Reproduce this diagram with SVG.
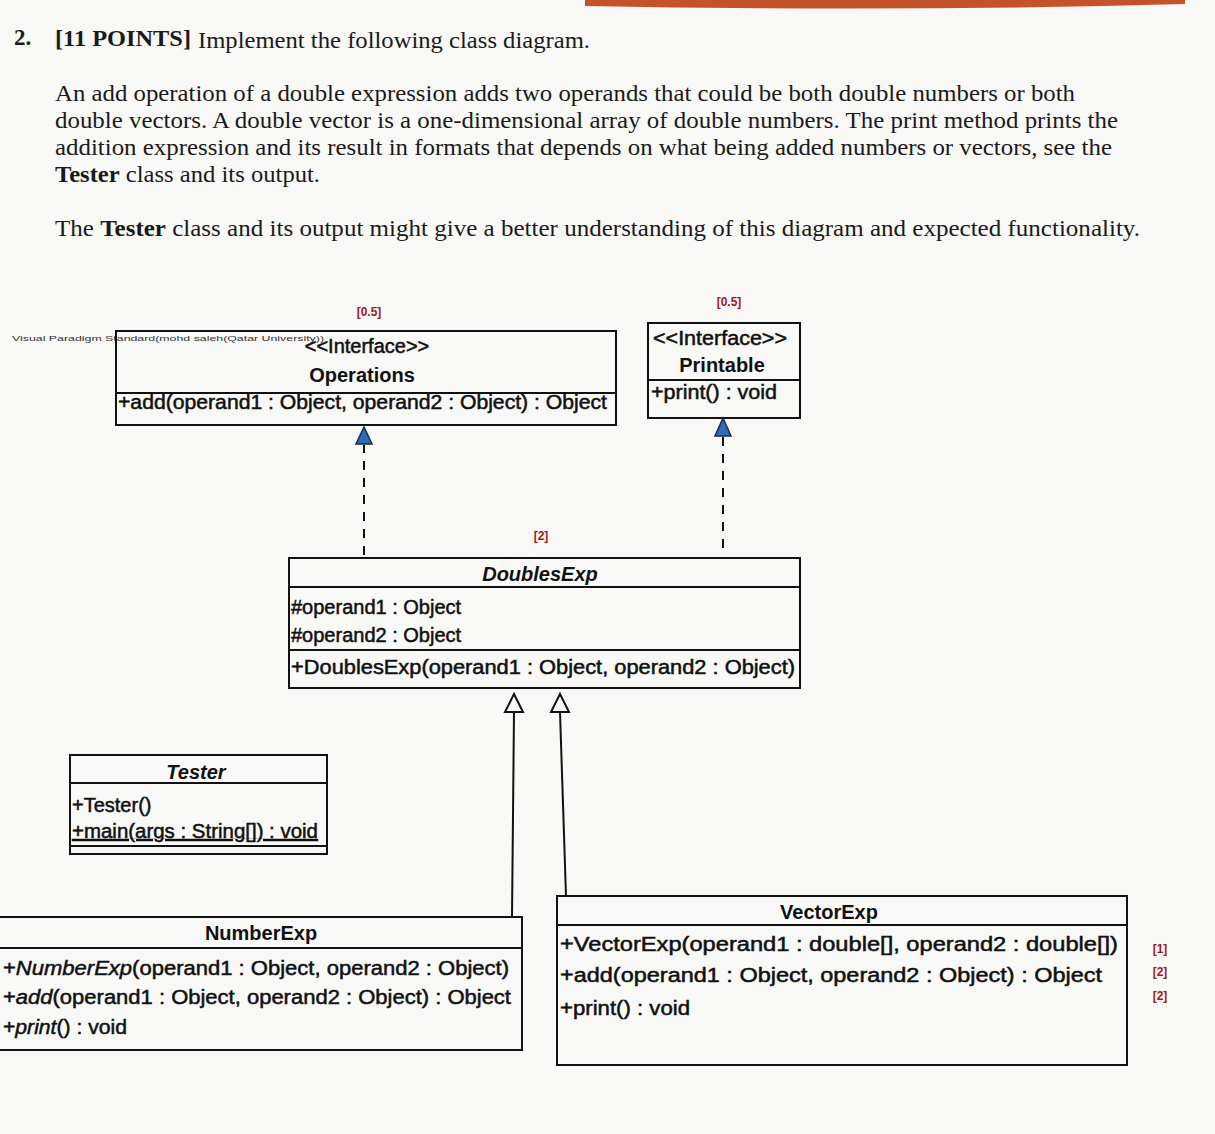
<svg xmlns="http://www.w3.org/2000/svg" width="1215" height="1134" viewBox="0 0 1215 1134">
<defs>
<style>
.ser{font-family:"Liberation Serif","Times New Roman",serif;font-size:23px;fill:#1a1a1a}
.b{font-weight:bold}
.uml{font-family:"Liberation Sans",Arial,sans-serif;font-size:20px;fill:#111;stroke:#111;stroke-width:0.5}
.ttl{font-family:"Liberation Sans",Arial,sans-serif;font-size:20px;font-weight:bold;fill:#111}
.red{font-family:"Liberation Sans",Arial,sans-serif;font-size:12px;font-weight:bold;fill:#a01818}
.box{fill:none;stroke:#111;stroke-width:2}
.conn{fill:none;stroke:#111;stroke-width:2}
.dash{stroke-dasharray:9 8}
</style>
</defs>
<rect x="0" y="0" width="1215" height="1134" fill="#f8f8f6"/>
<path d="M585 0 H1185 V4 Q900 12 585 6 Z" fill="#c4532b"/>

<g id="heading">
<text class="ser b" x="14" y="45" font-size="24">2.</text>
<text class="ser b" x="55" y="46" font-size="24" textLength="136" lengthAdjust="spacingAndGlyphs">[11 POINTS]</text>
<text class="ser" x="198" y="48" font-size="24" textLength="392" lengthAdjust="spacingAndGlyphs">Implement the following class diagram.</text>
<text class="ser" x="55" y="101" textLength="1020" lengthAdjust="spacingAndGlyphs">An add operation of a double expression adds two operands that could be both double numbers or both</text>
<text class="ser" x="55" y="128" textLength="1063" lengthAdjust="spacingAndGlyphs">double vectors. A double vector is a one-dimensional array of double numbers. The print method prints the</text>
<text class="ser" x="55" y="155" textLength="1057" lengthAdjust="spacingAndGlyphs">addition expression and its result in formats that depends on what being added numbers or vectors, see the</text>
<text class="ser" x="55" y="182" textLength="265" lengthAdjust="spacingAndGlyphs"><tspan class="b">Tester</tspan> class and its output.</text>
<text class="ser" x="55" y="236" textLength="1085" lengthAdjust="spacingAndGlyphs">The <tspan class="b">Tester</tspan> class and its output might give a better understanding of this diagram and expected functionality.</text>
</g>

<g id="marks">
<text class="red" x="369" y="316" text-anchor="middle">[0.5]</text>
<text class="red" x="729" y="306" text-anchor="middle">[0.5]</text>
<text class="red" x="541" y="540" text-anchor="middle">[2]</text>
<text class="red" x="1160" y="953" text-anchor="middle">[1]</text>
<text class="red" x="1160" y="976" text-anchor="middle">[2]</text>
<text class="red" x="1160" y="1000" text-anchor="middle">[2]</text>
</g>

<text x="12" y="341" font-family="Liberation Sans,Arial,sans-serif" font-size="7.5" fill="#333" textLength="312" lengthAdjust="spacingAndGlyphs">Visual Paradigm Standard(mohd saleh(Qatar University))</text>

<g id="Operations">
<rect class="box" x="116" y="331" width="500" height="94"/>
<line class="box" x1="116" y1="393" x2="616" y2="393"/>
<text class="uml" x="367" y="353" text-anchor="middle">&lt;&lt;Interface&gt;&gt;</text>
<text class="ttl" x="362" y="382" text-anchor="middle">Operations</text>
<text class="uml" x="118" y="409" textLength="489" lengthAdjust="spacingAndGlyphs">+add(operand1 : Object, operand2 : Object) : Object</text>
</g>

<g id="Printable">
<rect class="box" x="648" y="323" width="152" height="95"/>
<line class="box" x1="648" y1="380" x2="800" y2="380"/>
<text class="uml" x="720" y="345" text-anchor="middle" textLength="134" lengthAdjust="spacingAndGlyphs">&lt;&lt;Interface&gt;&gt;</text>
<text class="ttl" x="722" y="372" text-anchor="middle">Printable</text>
<text class="uml" x="651" y="399" textLength="126" lengthAdjust="spacingAndGlyphs">+print() : void</text>
</g>

<g id="DoublesExp">
<rect class="box" x="289" y="558" width="511" height="130"/>
<line class="box" x1="289" y1="587" x2="800" y2="587"/>
<line class="box" x1="289" y1="650" x2="800" y2="650"/>
<text class="ttl" x="540" y="581" text-anchor="middle" font-style="italic">DoublesExp</text>
<text class="uml" x="291" y="614">#operand1 : Object</text>
<text class="uml" x="291" y="642">#operand2 : Object</text>
<text class="uml" x="291" y="674" textLength="504" lengthAdjust="spacingAndGlyphs">+DoublesExp(operand1 : Object, operand2 : Object)</text>
</g>

<g id="Tester">
<rect class="box" x="70" y="755" width="257" height="99"/>
<line class="box" x1="70" y1="783" x2="327" y2="783"/>
<line class="box" x1="70" y1="846" x2="327" y2="846"/>
<text class="ttl" x="196" y="779" text-anchor="middle" font-style="italic">Tester</text>
<text class="uml" x="72" y="812">+Tester()</text>
<text class="uml" x="72" y="838" text-decoration="underline" textLength="246" lengthAdjust="spacingAndGlyphs">+main(args : String[]) : void</text>
</g>

<g id="NumberExp">
<rect class="box" x="-10" y="917" width="532" height="133"/>
<line class="box" x1="-10" y1="948" x2="522" y2="948"/>
<text class="ttl" x="261" y="940" text-anchor="middle">NumberExp</text>
<text class="uml" x="3" y="975" textLength="506" lengthAdjust="spacingAndGlyphs">+<tspan font-style="italic">NumberExp</tspan>(operand1 : Object, operand2 : Object)</text>
<text class="uml" x="3" y="1004" textLength="508" lengthAdjust="spacingAndGlyphs">+<tspan font-style="italic">add</tspan>(operand1 : Object, operand2 : Object) : Object</text>
<text class="uml" x="3" y="1034" textLength="124" lengthAdjust="spacingAndGlyphs">+<tspan font-style="italic">print</tspan>() : void</text>
</g>

<g id="VectorExp">
<rect class="box" x="557" y="896" width="570" height="169"/>
<line class="box" x1="557" y1="925" x2="1127" y2="925"/>
<text class="ttl" x="829" y="919" text-anchor="middle">VectorExp</text>
<text class="uml" x="560" y="951" textLength="558" lengthAdjust="spacingAndGlyphs">+VectorExp(operand1 : double[], operand2 : double[])</text>
<text class="uml" x="560" y="982" textLength="542" lengthAdjust="spacingAndGlyphs">+add(operand1 : Object, operand2 : Object) : Object</text>
<text class="uml" x="560" y="1015" textLength="130" lengthAdjust="spacingAndGlyphs">+print() : void</text>
</g>

<g id="connectors">
<line class="conn dash" x1="364" y1="555" x2="364" y2="445"/>
<polygon points="364,427 356,444 372,444" fill="#2f6db8" stroke="#1a2a40" stroke-width="1.5"/>
<line class="conn dash" x1="723" y1="548" x2="723" y2="437"/>
<polygon points="723,418 715,436 731,436" fill="#2f6db8" stroke="#1a2a40" stroke-width="1.5"/>
<polyline class="conn" points="512,917 514,712"/>
<polygon points="514,694 505,712 523,712" fill="#f8f8f6" stroke="#111" stroke-width="2"/>
<polyline class="conn" points="566,896 560,712"/>
<polygon points="560,694 551,712 569,712" fill="#f8f8f6" stroke="#111" stroke-width="2"/>
</g>
</svg>
